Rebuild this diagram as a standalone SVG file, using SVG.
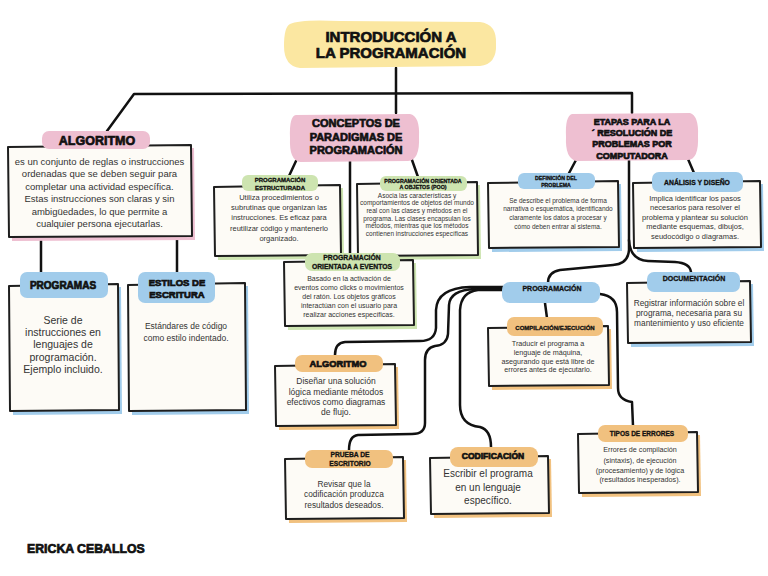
<svg xmlns="http://www.w3.org/2000/svg" width="768" height="576" viewBox="0 0 768 576">
<defs>
<style>
.h{font-family:"Liberation Sans",Arial,sans-serif;font-weight:bold;fill:#111;stroke:#111;stroke-width:0.3;text-anchor:middle}
.hl{stroke-width:0.7}
.b{font-family:"Liberation Sans",Arial,sans-serif;fill:#333;text-anchor:middle}
.bx{fill:#fdfbf6;stroke:#1e1e1e;stroke-width:2;stroke-linejoin:round}
.pk{fill:#eebfd1}.yl{fill:#fbe7a1}.gr{fill:#cde4b0}.bl{fill:#a1cceb}.or{fill:#f1c17f}
.cn{fill:none;stroke:#111;stroke-width:2.5;stroke-linecap:round;stroke-linejoin:round}
</style>
</defs>
<rect width="768" height="576" fill="#ffffff"/>

<g id="connectors">
<path class="cn" d="M396 68 V113"/>
<path class="cn" d="M107 131 L134 94 L632 93 V113"/>
<path class="cn" d="M41 236 V272"/>
<path class="cn" d="M177 236 V272"/>
<path class="cn" d="M296 161 L289 176"/>
<path class="cn" d="M412 160 L418 177"/>
<path class="cn" d="M350 160 V254"/>
<path class="cn" d="M576 160 L568 175"/>
<path class="cn" d="M688 159 L694 173"/>
<path class="cn" d="M629 160 V250 Q628 264 613 265 L560 270 Q548 272 548 283"/>
<path class="cn" d="M629 240 Q630 260 648 261 L675 262 Q690 263 691 272"/>
<path class="cn" d="M545 303 L547 318"/>
<path class="cn" d="M600 294 Q617 296 617 312 L618 388 Q618 400 632 402 L633 426"/>
<path class="cn" d="M503 287 L470 287 Q437 288 436 310 L436 328 Q435 341 420 341 L345 342 Q335 343 335 355"/>
<path class="cn" d="M503 289 L475 289 Q450 290 449 305 L448 334 Q447 345 435 346 Q425 348 425 360 L425 423 Q425 434 412 434 L358 435 Q349 436 349 450"/>
<path class="cn" d="M503 290 L478 290 Q461 292 460 310 L460 405 Q460 425 480 427 Q491 430 491 447"/>
</g>

<g id="node-title">
<path class="yl" d="M290 24 Q300 19 340 21 L480 22 Q497 24 496 44 Q497 64 480 66 L300 68 Q284 66 284 46 Q284 27 290 24 Z"/>
<text class="h hl" x="391" y="41.5" font-size="15">INTRODUCCIÓN A</text>
<text class="h hl" x="391" y="57.5" font-size="15">LA PROGRAMACIÓN</text>
</g>

<g id="node-algoritmo">
<path class="pk" d="M11 150 L194 148 L195 240 L12 241 Z"/>
<path class="bx" d="M8 147 L191 145 L192 236 L9 237 Z"/>
<rect class="pk" x="42" y="131" width="108" height="18" rx="7"/>
<text class="h hl" x="97" y="145" font-size="12.5">ALGORITMO</text>
<text class="b" font-size="9.5"><tspan x="99.5" y="164.5">es un conjunto de reglas o instrucciones</tspan><tspan x="99.5" y="177">ordenadas que se deben seguir para</tspan><tspan x="99.5" y="189.5">completar una actividad específica.</tspan><tspan x="99.5" y="202">Estas instrucciones son claras y sin</tspan><tspan x="99.5" y="214.5">ambigüedades, lo que permite a</tspan><tspan x="99.5" y="227">cualquier persona ejecutarlas.</tspan></text>
</g>

<g id="node-programas">
<path class="bl" d="M12 289 L121 287 L122 414 L13 415 Z"/>
<path class="bx" d="M9 286 L118 284 L119 410 L10 411 Z"/>
<rect class="bl" x="20" y="272" width="88" height="26" rx="7"/>
<text class="h hl" x="63" y="289" font-size="10">PROGRAMAS</text>
<text class="b" font-size="10.5"><tspan x="63" y="323.5">Serie de</tspan><tspan x="63" y="335.5">instrucciones en</tspan><tspan x="63" y="347.5">lenguajes de</tspan><tspan x="63" y="360.5">programación.</tspan><tspan x="63" y="372.5">Ejemplo incluido.</tspan></text>
</g>

<g id="node-estilos">
<path class="bl" d="M131 288 L248 286 L249 414 L132 415 Z"/>
<path class="bx" d="M128 285 L245 283 L246 410 L129 411 Z"/>
<rect class="bl" x="138" y="272" width="77" height="31" rx="7"/>
<text class="h hl" x="177" y="285.5" font-size="9.5">ESTILOS DE</text>
<text class="h hl" x="177" y="297.5" font-size="9.5">ESCRITURA</text>
<text class="b" font-size="8.5"><tspan x="186" y="329">Estándares de código</tspan><tspan x="186" y="341">como estilo indentado.</tspan></text>
</g>

<g id="node-conceptos">
<path class="pk" d="M296 115 L410 114 Q420 116 419 137 Q420 160 408 161 L300 162 Q289 160 290 138 Q289 116 296 115 Z"/>
<text class="h hl" x="356" y="127" font-size="11">CONCEPTOS DE</text>
<text class="h hl" x="356" y="140.5" font-size="11">PARADIGMAS DE</text>
<text class="h hl" x="356" y="154" font-size="11">PROGRAMACIÓN</text>
</g>

<g id="node-estructurada">
<path class="gr" d="M217 190 L343 188 L344 259 L218 260 Z"/>
<path class="bx" d="M214 187 L340 185 L341 255 L215 256 Z"/>
<rect class="gr" x="242" y="175" width="76" height="16" rx="6"/>
<text class="h" x="280" y="182" font-size="6">PROGRAMACIÓN</text>
<text class="h" x="280" y="189.5" font-size="6">ESTRUCTURADA</text>
<text class="b" font-size="7.5"><tspan x="279" y="200">Utiliza procedimientos o</tspan><tspan x="279" y="210">subrutinas que organizan las</tspan><tspan x="279" y="220">instrucciones. Es eficaz para</tspan><tspan x="279" y="230.7">reutilizar código y mantenerlo</tspan><tspan x="279" y="240.7">organizado.</tspan></text>
</g>

<g id="node-poo">
<path class="gr" d="M360 187 L480 185 L481 259 L361 260 Z"/>
<path class="bx" d="M357 184 L477 182 L478 255 L358 256 Z"/>
<rect class="gr" x="380" y="176" width="87" height="15" rx="6"/>
<text class="h" x="423" y="182.5" font-size="5.3">PROGRAMACIÓN ORIENTADA</text>
<text class="h" x="423" y="189.3" font-size="5.3">A OBJETOS (POO)</text>
<text class="b" font-size="6.5"><tspan x="417" y="197.5">Asocia las características y</tspan><tspan x="417" y="205.3">comportamientos de objetos del mundo</tspan><tspan x="417" y="213">real con las clases y métodos en el</tspan><tspan x="417" y="220.7">programa. Las clases encapsulan los</tspan><tspan x="417" y="228.3">métodos, mientras que los métodos</tspan><tspan x="417" y="236">contienen instrucciones específicas</tspan></text>
</g>

<g id="node-eventos">
<path class="gr" d="M287 265 L416 263 L417 329 L288 330 Z"/>
<path class="bx" d="M284 262 L413 260 L414 325 L285 326 Z"/>
<rect class="gr" x="305" y="253" width="95" height="18" rx="7"/>
<text class="h" x="352" y="260" font-size="6.8">PROGRAMACIÓN</text>
<text class="h" x="352" y="268.8" font-size="6.8">ORIENTADA A EVENTOS</text>
<text class="b" font-size="7"><tspan x="349" y="281">Basado en la activación de</tspan><tspan x="349" y="290">eventos como clicks o movimientos</tspan><tspan x="349" y="299">del ratón. Los objetos gráficos</tspan><tspan x="349" y="308">interactúan con el usuario para</tspan><tspan x="349" y="317">realizar acciones específicas.</tspan></text>
</g>

<g id="node-etapas">
<path class="pk" d="M572 114 L690 113 Q699 116 698 136 Q699 159 688 160 L576 161 Q565 158 566 137 Q565 116 572 114 Z"/>
<text class="h hl" x="632" y="125.3" font-size="9">ETAPAS PARA LA</text>
<text class="h hl" x="632" y="136.3" font-size="9">´ RESOLUCIÓN DE</text>
<text class="h hl" x="632" y="147.3" font-size="9">PROBLEMAS POR</text>
<text class="h hl" x="632" y="159.3" font-size="9">COMPUTADORA</text>
</g>

<g id="node-definicion">
<path class="bl" d="M491 186 L621 184 L622 251 L492 252 Z"/>
<path class="bx" d="M488 183 L618 181 L619 247 L489 248 Z"/>
<rect class="bl" x="518" y="173" width="77" height="16" rx="6"/>
<text class="h" x="556" y="179.5" font-size="5.2">DEFINICIÓN DEL</text>
<text class="h" x="556" y="187" font-size="5.2">PROBLEMA</text>
<text class="b" font-size="6.5"><tspan x="558" y="203.3">Se describe el problema de forma</tspan><tspan x="558" y="211.3">narrativa o esquemática, identificando</tspan><tspan x="558" y="220.3">claramente los datos a procesar y</tspan><tspan x="558" y="229.3">cómo deben entrar al sistema.</tspan></text>
</g>

<g id="node-analisis">
<path class="bl" d="M636 186 L763 184 L764 251 L637 252 Z"/>
<path class="bx" d="M633 183 L760 181 L761 247 L634 248 Z"/>
<rect class="bl" x="652" y="172" width="91" height="20" rx="7"/>
<text class="h" x="697" y="184.5" font-size="6.8">ANÁLISIS Y DISEÑO</text>
<text class="b" font-size="7.5"><tspan x="695" y="200.7">Implica identificar los pasos</tspan><tspan x="695" y="209.7">necesarios para resolver el</tspan><tspan x="695" y="219.7">problema y plantear su solución</tspan><tspan x="695" y="228.7">mediante esquemas, dibujos,</tspan><tspan x="695" y="238.7">seudocódigo o diagramas.</tspan></text>
</g>

<g id="node-documentacion">
<path class="bl" d="M630 286 L753 284 L754 346 L631 347 Z"/>
<path class="bx" d="M627 283 L750 281 L751 342 L628 343 Z"/>
<rect class="bl" x="647" y="272" width="93" height="20" rx="7"/>
<text class="h" x="694" y="280.5" font-size="7">DOCUMENTACIÓN</text>
<text class="b" font-size="8.3"><tspan x="689" y="306">Registrar información sobre el</tspan><tspan x="689" y="316">programa, necesaria para su</tspan><tspan x="689" y="326">mantenimiento y uso eficiente</tspan></text>
</g>

<g id="node-programacion">
<rect class="bl" x="502" y="282" width="98" height="21" rx="8"/>
<text class="h" x="552" y="290.5" font-size="7">PROGRAMACIÓN</text>
</g>

<g id="node-compilacion">
<path class="or" d="M491 331 L611 329 L612 389 L492 390 Z"/>
<path class="bx" d="M488 328 L608 326 L609 385 L489 386 Z"/>
<rect class="or" x="507" y="317" width="96" height="19" rx="7"/>
<text class="h" x="555" y="329.5" font-size="6">COMPILACIÓN/EJECUCIÓN</text>
<text class="b" font-size="7.2"><tspan x="548" y="345.6">Traducir el programa a</tspan><tspan x="548" y="354.6">lenguaje de máquina,</tspan><tspan x="548" y="363.6">asegurando que está libre de</tspan><tspan x="548" y="371.6">errores antes de ejecutarlo.</tspan></text>
</g>

<g id="node-algoritmo2">
<path class="or" d="M278 369 L398 367 L399 429 L279 430 Z"/>
<path class="bx" d="M275 366 L395 364 L396 425 L276 426 Z"/>
<rect class="or" x="295" y="355" width="88" height="17" rx="7"/>
<text class="h hl" x="338" y="367" font-size="9.3">ALGORITMO</text>
<text class="b" font-size="8.5"><tspan x="336" y="384">Diseñar una solución</tspan><tspan x="336" y="395">lógica mediante métodos</tspan><tspan x="336" y="405">efectivos como diagramas</tspan><tspan x="336" y="415">de flujo.</tspan></text>
</g>

<g id="node-prueba">
<path class="or" d="M288 462 L406 460 L407 522 L289 523 Z"/>
<path class="bx" d="M285 459 L403 457 L404 518 L286 519 Z"/>
<rect class="or" x="305" y="450" width="88" height="18" rx="7"/>
<text class="h" x="350" y="457" font-size="6.7">PRUEBA DE</text>
<text class="h" x="350" y="466" font-size="6.7">ESCRITORIO</text>
<text class="b" font-size="8.3"><tspan x="344" y="487">Revisar que la</tspan><tspan x="344" y="497">codificación produzca</tspan><tspan x="344" y="508">resultados deseados.</tspan></text>
</g>

<g id="node-codificacion">
<path class="or" d="M433 461 L551 459 L552 517 L434 518 Z"/>
<path class="bx" d="M430 458 L548 456 L549 513 L431 514 Z"/>
<rect class="or" x="450" y="447" width="88" height="20" rx="8"/>
<text class="h hl" x="493" y="458.5" font-size="8.5">CODIFICACIÓN</text>
<text class="b" font-size="10"><tspan x="488" y="476.5">Escribir el programa</tspan><tspan x="488" y="490.5">en un lenguaje</tspan><tspan x="488" y="503.5">específico.</tspan></text>
</g>

<g id="node-tipos">
<path class="or" d="M581 437 L700 435 L701 496 L582 497 Z"/>
<path class="bx" d="M578 434 L697 432 L698 492 L579 493 Z"/>
<rect class="or" x="598" y="425" width="90" height="17" rx="7"/>
<text class="h" x="642" y="436" font-size="6.5">TIPOS DE ERRORES</text>
<text class="b" font-size="7.2"><tspan x="640" y="451.6">Errores de compilación</tspan><tspan x="640" y="462.6">(sintaxis), de ejecución</tspan><tspan x="640" y="472.6">(procesamiento) y de lógica</tspan><tspan x="640" y="481.6">(resultados inesperados).</tspan></text>
</g>

<g id="author">
<text class="h hl" x="27" y="553" font-size="12.3" style="text-anchor:start">ERICKA CEBALLOS</text>
</g>
</svg>
